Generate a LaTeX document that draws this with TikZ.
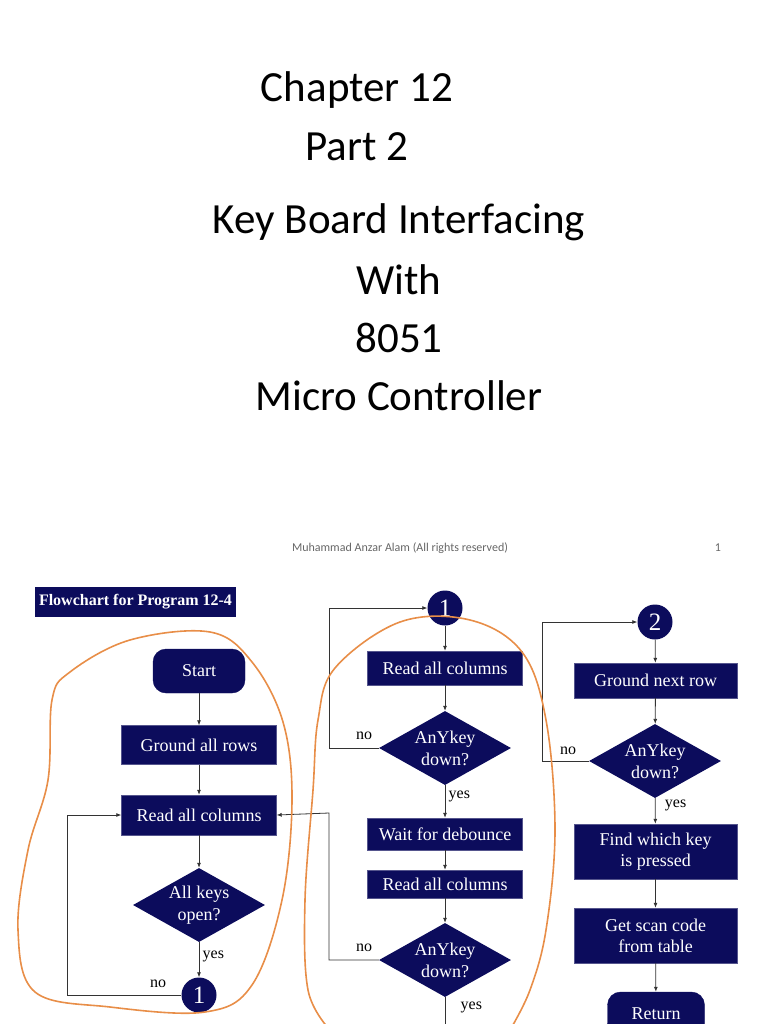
\documentclass[tikz,border=0pt]{standalone}
\usepackage{fontspec}
\setmainfont{Liberation Serif}
\newfontfamily\titlefont{Carlito}
\usetikzlibrary{shapes.geometric,arrows.meta}
\definecolor{navy}{RGB}{12,12,92}
\definecolor{blob}{RGB}{232,142,72}
\begin{document}
\begin{tikzpicture}[x=1pt,y=-1pt,
  box/.style={draw=navy!70,fill=navy,text=white,minimum width=155pt,minimum height=#1,inner sep=1pt,align=center,font=\fontsize{18}{21}\selectfont},
  box/.default=38pt,
  term/.style={draw=navy,fill=navy,text=white,rounded corners=13pt,minimum height=44pt,font=\fontsize{18}{20}\selectfont},
  dec/.style={diamond,aspect=1.8,fill=navy,text=white,minimum width=132pt,minimum height=74pt,inner sep=0pt,align=center,font=\fontsize{18}{22}\selectfont},
  conn/.style={circle,fill=navy,text=white,minimum size=35pt,inner sep=0pt,font=\fontsize{25}{26}\selectfont},
  arr/.style={draw=black!80,line width=0.8pt,-{Latex[length=5pt,width=4pt]}},
  lbl/.style={font=\fontsize{16}{17}\selectfont},
  ttl/.style={font=\titlefont\fontsize{43}{46}\selectfont}]
\useasboundingbox (0,0) rectangle (768,1024);
\clip (0,0) rectangle (768,1024);
% title
\node[ttl] (t1) at (357,90) {Chapter 12};
\node[ttl] (t2) at (357,147) {Part 2};
\node[ttl] (t3) at (399,222) {Key Board Interfacing};
\node[ttl] (t4) at (399,280) {With};
\node[ttl] (t5) at (399,338) {8051};
\node[ttl] (t6) at (399,396) {Micro Controller};
\node[font=\titlefont\fontsize{12}{13}\selectfont,text=black!60] (ft) at (400,548) {Muhammad Anzar Alam (All rights reserved)};
\node[font=\titlefont\fontsize{12}{13}\selectfont,text=black!60] (pg) at (718,548) {1};
% header
\node[fill=navy,text=white,minimum width=201pt,minimum height=30pt,inner sep=0pt,font=\bfseries\fontsize{16}{17}\selectfont] (hd) at (135.5,602) {Flowchart for Program 12-4};
% left column
\node[term,minimum width=92pt] (st) at (199,671) {Start};
\node[box=39pt] (gr) at (199,745) {Ground all rows};
\node[box=40pt] (ra) at (199,815) {Read all columns};
\node[dec] (ko) at (199,905) {All keys\\open?};
\node[conn] (c1a) at (199,995) {1};
\draw[arr] (st) -- (gr);
\draw[arr] (gr) -- (ra);
\draw[arr] (ra) -- (ko);
\draw[arr] (ko) -- node[lbl,right,pos=0.4]{yes} (c1a);
\draw[arr] (c1a.west) -- (67,995) |- (ra.west);
\node[lbl] (n1) at (158,984) {no};
% middle column
\node[conn] (c1b) at (445,608) {1};
\node[box=34pt] (rb) at (445,668) {Read all columns};
\node[dec] (d1) at (445,748) {AnYkey\\down?};
\node[box=32pt] (wd) at (445,834) {Wait for debounce};
\node[box=28pt] (rc) at (445,884) {Read all columns};
\node[dec] (d2) at (445,960) {AnYkey\\down?};
\coordinate (bot) at (445,1030);
\draw[arr] (c1b) -- (rb);
\draw[arr] (rb) -- (d1);
\draw[arr] (d1) -- node[lbl,right,pos=0.35]{yes} (wd);
\draw[arr] (wd) -- (rc);
\draw[arr] (rc) -- (d2);
\draw[arr] (d2) -- node[lbl,right,pos=0.3,xshift=12pt]{yes} (bot);
\draw[arr] (d1.west) -- (329,748) |- (c1b.west);
\draw[arr] (d2.west) -- (329,960) -- (329,813) -- (ra.east);
\node[lbl] (n2) at (364,736) {no};
\node[lbl] (n3) at (364,948) {no};
% right column
\node[conn] (c2) at (655,622) {2};
\node[box=35pt,minimum width=163pt] (gn) at (655.5,680.5) {Ground next row};
\node[dec] (d3) at (655,761) {AnYkey\\down?};
\node[box=55pt,minimum width=163pt] (fk) at (655.5,851.5) {Find which key\\is pressed};
\node[box=55pt,minimum width=163pt] (gs) at (655.5,935.5) {Get scan code\\from table};
\node[term,minimum width=97pt] (rt) at (656,1014) {Return};
\draw[arr] (c2) -- (gn);
\draw[arr] (gn) -- (d3);
\draw[arr] (d3) -- node[lbl,right,pos=0.3,xshift=6pt]{yes} (fk);
\draw[arr] (fk) -- (gs);
\draw[arr] (gs) -- (rt);
\draw[arr] (d3.west) -- (542,761) |- (c2.west);
\node[lbl] (n4) at (568,751) {no};
% orange freehand blobs
\draw[blob,line width=1.6pt] plot[smooth cycle,tension=0.6] coordinates {(70,672) (130,640) (210,632) (252,662) (283,722) (292,800) (282,900) (252,985) (205,1012) (110,1007) (35,992) (18,930) (28,850) (48,780) (52,700)};
\draw[blob,line width=1.6pt] plot[smooth,tension=0.6] coordinates {(330,1030) (308,990) (305,900) (313,790) (318,720) (335,668) (400,622) (470,620) (522,652) (546,720) (555,830) (546,930) (530,990) (510,1030)};
\end{tikzpicture}
\end{document}
